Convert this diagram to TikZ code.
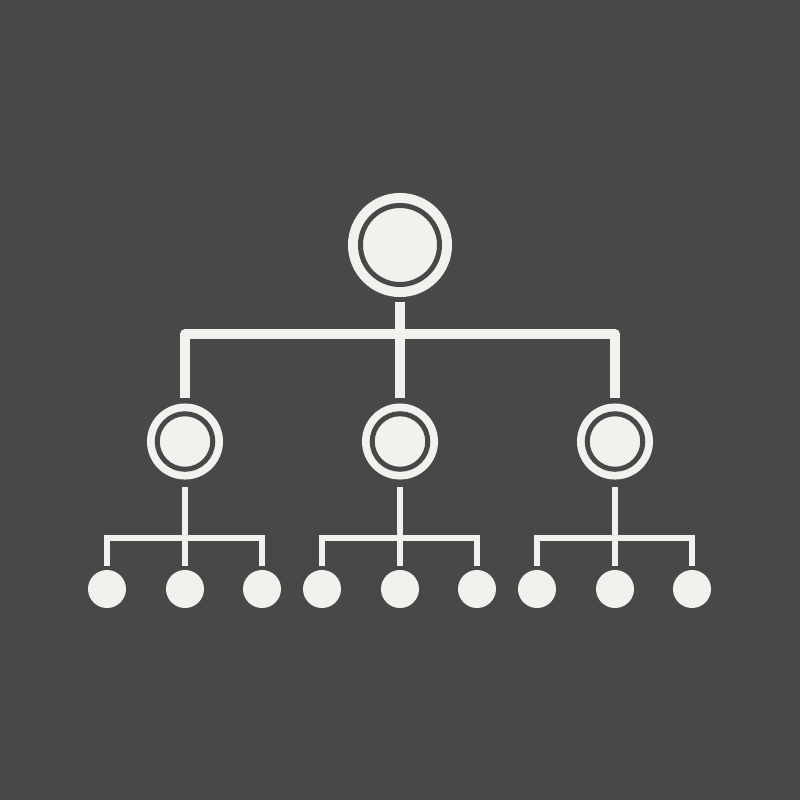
\documentclass[tikz,border=0pt]{standalone}
\usepackage{tikz}
\usetikzlibrary{calc}
\definecolor{slate}{HTML}{484848}
\definecolor{ivory}{HTML}{F2F1ED}

\begin{document}
\begin{tikzpicture}[x=0.01cm, y=-0.01cm,
		hub/.style={circle, fill=ivory, inner sep=0pt, minimum size=#1},
		ring/.style={circle, draw=slate, line width=0.05cm, inner sep=0pt, minimum size=#1},
		leaf/.style={circle, fill=ivory, inner sep=0pt, minimum size=0.38cm},
		trunk/.style={draw=ivory, line width=0.1cm, line join=round},
		twig/.style={draw=ivory, line width=0.06cm}]
		%%%%% START %%%%%
		
		\fill[slate] (0, 0) rectangle (800, 800);
		
		\node[hub=1.04cm] (root) at (400, 245) {};
		\node[ring=0.79cm] at (root.center) {};
		
		\node[hub=0.76cm] (hubA) at (185, 441.5) {};
		\node[ring=0.555cm] at (hubA.center) {};
		\node[hub=0.76cm] (hubB) at (400, 441.5) {};
		\node[ring=0.555cm] at (hubB.center) {};
		\node[hub=0.76cm] (hubC) at (615, 441.5) {};
		\node[ring=0.555cm] at (hubC.center) {};
		
		\node[leaf] (leafA1) at (107, 589) {};
		\node[leaf] (leafA2) at (185, 589) {};
		\node[leaf] (leafA3) at (262, 589) {};
		\node[leaf] (leafB1) at (322, 589) {};
		\node[leaf] (leafB2) at (400, 589) {};
		\node[leaf] (leafB3) at (477, 589) {};
		\node[leaf] (leafC1) at (537, 589) {};
		\node[leaf] (leafC2) at (615, 589) {};
		\node[leaf] (leafC3) at (692, 589) {};
		
		\coordinate (bus) at (400, 334);
		\coordinate (forkA) at (185, 538);
		\coordinate (forkB) at (400, 538);
		\coordinate (forkC) at (615, 538);
		
		\draw[trunk] ([yshift=-0.04cm]root.south) -- (bus);
		\draw[trunk] ([yshift=0.05cm]hubA.north) |- (bus) -| ([yshift=0.05cm]hubC.north);
		\draw[trunk] (bus) -- ([yshift=0.05cm]hubB.north);
		
		\draw[twig] ([yshift=-0.07cm]hubA.south) -- (forkA);
		\draw[twig] ([yshift=0.03cm]leafA1.north) |- (forkA) -| ([yshift=0.03cm]leafA3.north);
		\draw[twig] (forkA) -- ([yshift=0.03cm]leafA2.north);
		
		\draw[twig] ([yshift=-0.07cm]hubB.south) -- (forkB);
		\draw[twig] ([yshift=0.03cm]leafB1.north) |- (forkB) -| ([yshift=0.03cm]leafB3.north);
		\draw[twig] (forkB) -- ([yshift=0.03cm]leafB2.north);
		
		\draw[twig] ([yshift=-0.07cm]hubC.south) -- (forkC);
		\draw[twig] ([yshift=0.03cm]leafC1.north) |- (forkC) -| ([yshift=0.03cm]leafC3.north);
		\draw[twig] (forkC) -- ([yshift=0.03cm]leafC2.north);
		
		%%%%% END %%%%%
\end{tikzpicture}
\end{document}
